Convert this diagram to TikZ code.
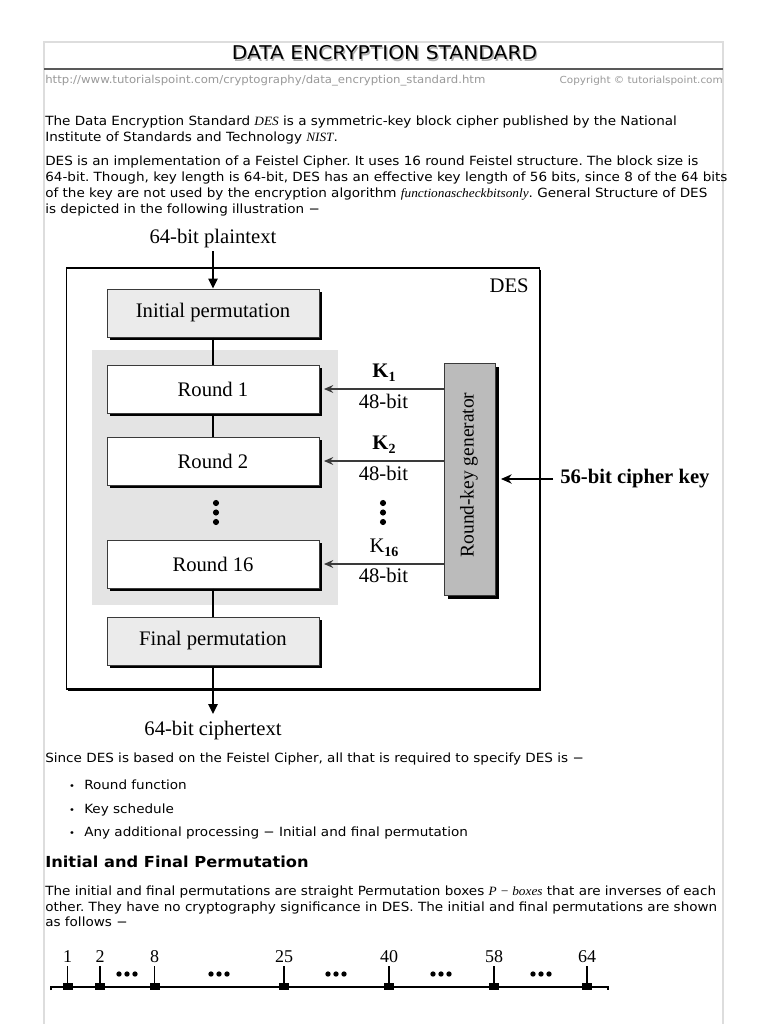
\documentclass[tikz,border=0pt]{standalone}
\usepackage{fontspec}
\setmainfont{DejaVu Sans}[FakeStretch=1.07]
\newfontfamily\dfserif{Liberation Serif}
\newfontfamily\itserif{Liberation Serif}[FakeStretch=1.05]
\usetikzlibrary{arrows.meta,shadows}
\definecolor{pageline}{HTML}{DDDDDD}
\definecolor{urlgray}{HTML}{999999}
\definecolor{permfill}{HTML}{EBEBEB}
\definecolor{zonefill}{HTML}{E4E4E4}
\definecolor{genfill}{HTML}{BBBBBB}
\definecolor{inkgray}{HTML}{3A3A3A}
\tikzset{
  bodytext/.style={anchor=base west, inner sep=0pt, text=black, font=\fontsize{9.5}{11}\selectfont},
  dfont/.style={font=\dfserif\fontsize{15.5}{18}\selectfont},
  stage/.style={draw=inkgray, line width=0.75pt, minimum width=159pt, minimum height=36pt, inner sep=0pt, dfont,
    general shadow={fill=black, shadow xshift=2.6pt, shadow yshift=-2.6pt}},
  perm/.style={stage, fill=permfill},
  roundbox/.style={stage, fill=white},
  flow/.style={line width=1.1pt, -{Triangle[length=7.5pt,width=7pt]}},
  link/.style={line width=1.1pt},
  keyline/.style={draw=inkgray, line width=0.8pt, -{Stealth[length=7pt,width=6pt,inset=2.5pt]}},
  kdot/.style={circle, fill=black, inner sep=0pt, minimum size=4.6pt},
  tick/.style={line width=0.8pt},
  mark box/.style={fill=black, inner sep=0pt, minimum width=7.5pt, minimum height=5pt},
}
\newcommand{\ital}[1]{{\itserif\itshape #1}}
\newcommand{\kkey}[1]{\textbf{K}\raisebox{-3pt}{\fontsize{10.5}{12}\selectfont\textbf{#1}}}
\begin{document}
\frenchspacing
\begin{tikzpicture}[x=0.75pt,y=-0.75pt]
\useasboundingbox (0,0) rectangle (768,1024);
\fill[white] (0,0) rectangle (768,1024);
% page frame
\draw[pageline, line width=0.8pt] (44,1024) -- (44,42) -- (723,42) -- (723,1024);
\node[anchor=base, inner sep=0pt, text=black!30, font=\fontsize{14.2}{16}\selectfont] at (385.8,61.8) {DATA ENCRYPTION STANDARD};
\node[anchor=base, inner sep=0pt, font=\fontsize{14.2}{16}\selectfont] (title) at (384.5,60) {DATA ENCRYPTION STANDARD};
\draw[black!65, line width=1.5pt] (44,69.5) -- (723,69.5);
\node[anchor=base west, inner sep=0pt, text=urlgray, font=\fontsize{8.2}{10}\selectfont] (url) at (45,84) {http://www.tutorialspoint.com/cryptography/data\_encryption\_standard.htm};
\node[anchor=base east, inner sep=0pt, text=urlgray, font=\fontsize{7.3}{10}\selectfont] (copy) at (723,84) {Copyright © tutorialspoint.com};
% paragraphs
\node[bodytext] at (45,125) {The Data Encryption Standard \ital{DES} is a symmetric-key block cipher published by the National};
\node[bodytext] at (45,141) {Institute of Standards and Technology \ital{NIST}.};
\node[bodytext] at (45,165) {DES is an implementation of a Feistel Cipher. It uses 16 round Feistel structure. The block size is};
\node[bodytext] at (45,181) {64-bit. Though, key length is 64-bit, DES has an effective key length of 56 bits, since 8 of the 64 bits};
\node[bodytext] at (45,197) {of the key are not used by the encryption algorithm \ital{functionascheckbitsonly}. General Structure of DES};
\node[bodytext] at (45,213) {is depicted in the following illustration −};
% ---------------- diagram
\node[draw=black, line width=1.2pt, fill=white, minimum width=354.75pt, minimum height=315.75pt,
  general shadow={fill=black, shadow xshift=1.3pt, shadow yshift=-1.3pt}] (des) at (303,478.5) {};
\node[dfont, anchor=base east, inner sep=0pt] (deslabel) at (529,292) {DES};
\fill[zonefill] (92,350) rectangle (338,605);
\node[perm] (ip) at (213,313) {Initial permutation};
\node[roundbox] (r1) at (213,389) {Round 1};
\node[roundbox] (r2) at (213,461) {Round 2};
\node[roundbox] (r16) at (213,564) {Round 16};
\node[perm] (fp) at (213,641) {Final permutation};
\node[kdot] (ld1) at (216,503) {};
\node[kdot] (ld2) at (216,512.5) {};
\node[kdot] (ld3) at (216,522) {};
\draw[link] (ip) -- (r1);
\draw[link] (r1) -- (r2);
\draw[link] (r16) -- (fp);
\node[dfont, anchor=base, inner sep=0pt] (plain) at (213,243) {64-bit plaintext};
\coordinate (pin) at (213,251);
\draw[flow] (pin) -- (ip.north);
\node[dfont, anchor=base, inner sep=0pt] (cipher) at (213,735) {64-bit ciphertext};
\coordinate (pout) at (213,714);
\draw[flow] (fp.south) -- (pout);
% key generator
\node[draw=inkgray, line width=0.75pt, fill=genfill, minimum width=38.25pt, minimum height=174pt, inner sep=0pt,
  general shadow={fill=black, shadow xshift=3pt, shadow yshift=-3pt}] (kg) at (469.5,479) {};
\node[rotate=90, font=\dfserif\fontsize{14.6}{16}\selectfont, inner sep=0pt] (kgl) at (469,475) {Round-key generator};
\coordinate (t1) at (324,389);
\coordinate (t2) at (324,461);
\coordinate (t16) at (324,564);
\draw[keyline] (kg.west |- t1) -- (t1);
\draw[keyline] (kg.west |- t2) -- (t2);
\draw[keyline] (kg.west |- t16) -- (t16);
\node[dfont, anchor=base, inner sep=0pt] (k1) at (384,377) {\kkey{1}};
\node[dfont, anchor=base, inner sep=0pt] (b1) at (383.5,408) {48-bit};
\node[dfont, anchor=base, inner sep=0pt] (k2) at (384,449) {\kkey{2}};
\node[dfont, anchor=base, inner sep=0pt] (b2) at (383.5,480) {48-bit};
\node[dfont, anchor=base, inner sep=0pt] (k16) at (384,552) {K\raisebox{-3pt}{\fontsize{10.5}{12}\selectfont\textbf{16}}};
\node[dfont, anchor=base, inner sep=0pt] (b16) at (383.5,582) {48-bit};
\node[kdot] (rd1) at (383,503) {};
\node[kdot] (rd2) at (383,512.5) {};
\node[kdot] (rd3) at (383,522) {};
\coordinate (ck) at (553,479);
\coordinate (cktip) at (501,479);
\draw[line width=1pt, -{Stealth[length=8pt,width=7pt,inset=2.5pt]}] (ck) -- (cktip);
\node[dfont, anchor=base west, inner sep=0pt] (cklabel) at (560,483) {\textbf{56-bit cipher key}};
% ---------------- after diagram
\node[bodytext] at (45,762) {Since DES is based on the Feistel Cipher, all that is required to specify DES is −};
\node[bodytext, anchor=base] at (72,789) {\fontsize{7}{8}\selectfont •};
\node[bodytext] at (84,789) {Round function};
\node[bodytext, anchor=base] at (72,813) {\fontsize{7}{8}\selectfont •};
\node[bodytext] at (84,813) {Key schedule};
\node[bodytext, anchor=base] at (72,836) {\fontsize{7}{8}\selectfont •};
\node[bodytext] at (84,836) {Any additional processing − Initial and final permutation};
\node[bodytext, font=\fontsize{11.4}{14}\selectfont\bfseries] at (45,867) {Initial and Final Permutation};
\node[bodytext] at (45,895) {The initial and final permutations are straight Permutation boxes \ital{P − boxes} that are inverses of each};
\node[bodytext] at (45,911) {other. They have no cryptography significance in DES. The initial and final permutations are shown};
\node[bodytext] at (45,926) {as follows −};
% ---------------- permutation strip
\coordinate (sl) at (51,987);
\coordinate (sr) at (608,987);
\draw[tick] (sl) ++(0,3) -- (sl) -- (sr) -- ++(0,3);
\foreach \n/\xx in {1/67.5,2/100,8/154.5,25/284,40/389,58/494,64/587}{
  \node[font=\dfserif\fontsize{13.5}{15}\selectfont, anchor=base, inner sep=0pt] (n\n) at (\xx,962) {\n};
  \node[mark box] (m\n) at (\xx,986.5) {};
  \draw[tick] (n\n.south) ++(0,4) -- (m\n.north);
}
\foreach \xx in {127,219,336,441,541}{
  \foreach \d in {-8,0,8}{ \fill (\xx+\d,974) circle (2pt); }
}
\end{tikzpicture}
\end{document}
